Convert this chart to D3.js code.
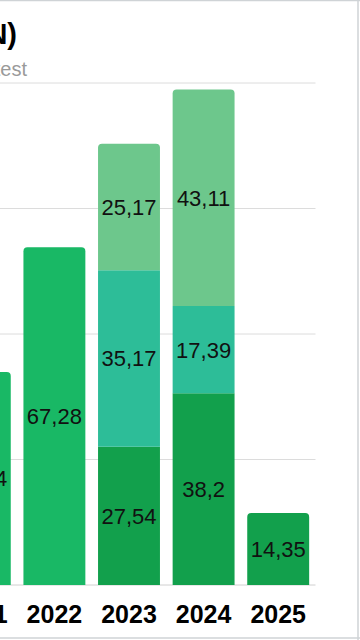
<!DOCTYPE html>
<html>
<head>
<meta charset="utf-8">
<script src="https://cdn.jsdelivr.net/npm/d3@7"></script>
<style>
  html, body { margin: 0; padding: 0; background: #fff; }
  svg { display: block; }
</style>
</head>
<body>
<svg id="chart" width="360" height="640"></svg>
<script>
// ---- data ----
const years = ["2021", "2022", "2023", "2024", "2025"];
const baseBright = [42.44, 67.28, 0, 0, 0];
const baseDark   = [0, 0, 27.54, 38.2, 14.35];
const middleVals = [0, 0, 35.17, 17.39, 0];
const topVals    = [0, 0, 25.17, 43.11, 0];
const yTicks = [0, 25, 50, 75, 100];
const titleText = "Umsatz (EUR MN)";
const subtitleText = "Stand: latest";

const seriesKeys = ["bright", "dark", "middle", "top"];
const colors = { bright: "#19b865", dark: "#12a04c", middle: "#2dbd98", top: "#6dc78c" };

const rows = years.map((y, i) => ({
  year: y, bright: baseBright[i], dark: baseDark[i], middle: middleVals[i], top: topVals[i]
}));

const svg = d3.select("#chart");
const font = "'Liberation Sans', Arial, Helvetica, sans-serif";

// frame
svg.append("line").attr("x1", 0).attr("x2", 360).attr("y1", 0.5).attr("y2", 0.5)
  .attr("stroke", "#cfd3d6").attr("stroke-width", 1.5);
svg.append("line").attr("x1", 358).attr("x2", 358).attr("y1", 0).attr("y2", 640)
  .attr("stroke", "#cfd3d6").attr("stroke-width", 1.5);
svg.append("line").attr("x1", 0).attr("x2", 360).attr("y1", 638).attr("y2", 638)
  .attr("stroke", "#cfd3d6").attr("stroke-width", 1.5);

// title / subtitle (cropped at left, as in the reference)
svg.append("text").attr("x", 17).attr("y", 44).attr("text-anchor", "end")
  .attr("font-family", font).attr("font-weight", "bold").attr("font-size", 29)
  .attr("fill", "#000").text(titleText);
svg.append("text").attr("x", 27).attr("y", 76).attr("text-anchor", "end")
  .attr("font-family", font).attr("font-size", 20)
  .attr("fill", "#9a9a9a").text(subtitleText);

// scales
const step = 74.6;
const xRight = 315.5;
const x = d3.scaleBand().domain(years)
  .range([xRight - step * years.length, xRight])
  .paddingInner(0.17).paddingOuter(0.085);
const y = d3.scaleLinear().domain([0, 100]).range([585, 83]);

// gridlines
svg.append("g").selectAll("line").data(yTicks).join("line")
  .attr("x1", 0).attr("x2", xRight)
  .attr("y1", d => y(d)).attr("y2", d => y(d))
  .attr("stroke", d => d === 0 ? "#d0d0d0" : "#dcdcdc").attr("stroke-width", 1);

// stack
const stacked = d3.stack().keys(seriesKeys)(rows);
const fmt = v => String(v).replace(".", ",");

const segs = [];
stacked.forEach(layer => {
  layer.forEach((d, i) => {
    const v = rows[i][layer.key];
    if (v > 0) segs.push({ key: layer.key, year: years[i], y0: d[0], y1: d[1], v });
  });
});
// mark topmost segment per year
years.forEach(yr => {
  const s = segs.filter(d => d.year === yr);
  if (s.length) s.reduce((a, b) => (b.y1 > a.y1 ? b : a)).isTop = true;
});

function segPath(d) {
  const x0 = x(d.year), w = x.bandwidth();
  const yt = y(d.y1), yb = y(d.y0);
  const r = d.isTop ? 4 : 0;
  return `M${x0},${yb}V${yt + r}` +
    (r ? `Q${x0},${yt} ${x0 + r},${yt}` : "") +
    `H${x0 + w - r}` +
    (r ? `Q${x0 + w},${yt} ${x0 + w},${yt + r}` : "") +
    `V${yb}Z`;
}

svg.append("g").selectAll("path").data(segs).join("path")
  .attr("d", segPath).attr("fill", d => colors[d.key]);

svg.append("g").selectAll("text").data(segs).join("text")
  .attr("x", d => x(d.year) + x.bandwidth() / 2)
  .attr("y", d => (y(d.y0) + y(d.y1)) / 2 + 8)
  .attr("text-anchor", "middle")
  .attr("font-family", font).attr("font-size", 22).attr("fill", "#111")
  .text(d => fmt(d.v));

// x axis labels
const xAxis = d3.axisBottom(x).tickSize(0).tickPadding(0);
const gx = svg.append("g").attr("transform", "translate(0,585)").call(xAxis);
gx.select(".domain").remove();
gx.selectAll("text")
  .attr("y", 38).attr("dy", null)
  .attr("font-family", font).attr("font-weight", "bold").attr("font-size", 25)
  .attr("fill", "#000");
</script>
</body>
</html>
